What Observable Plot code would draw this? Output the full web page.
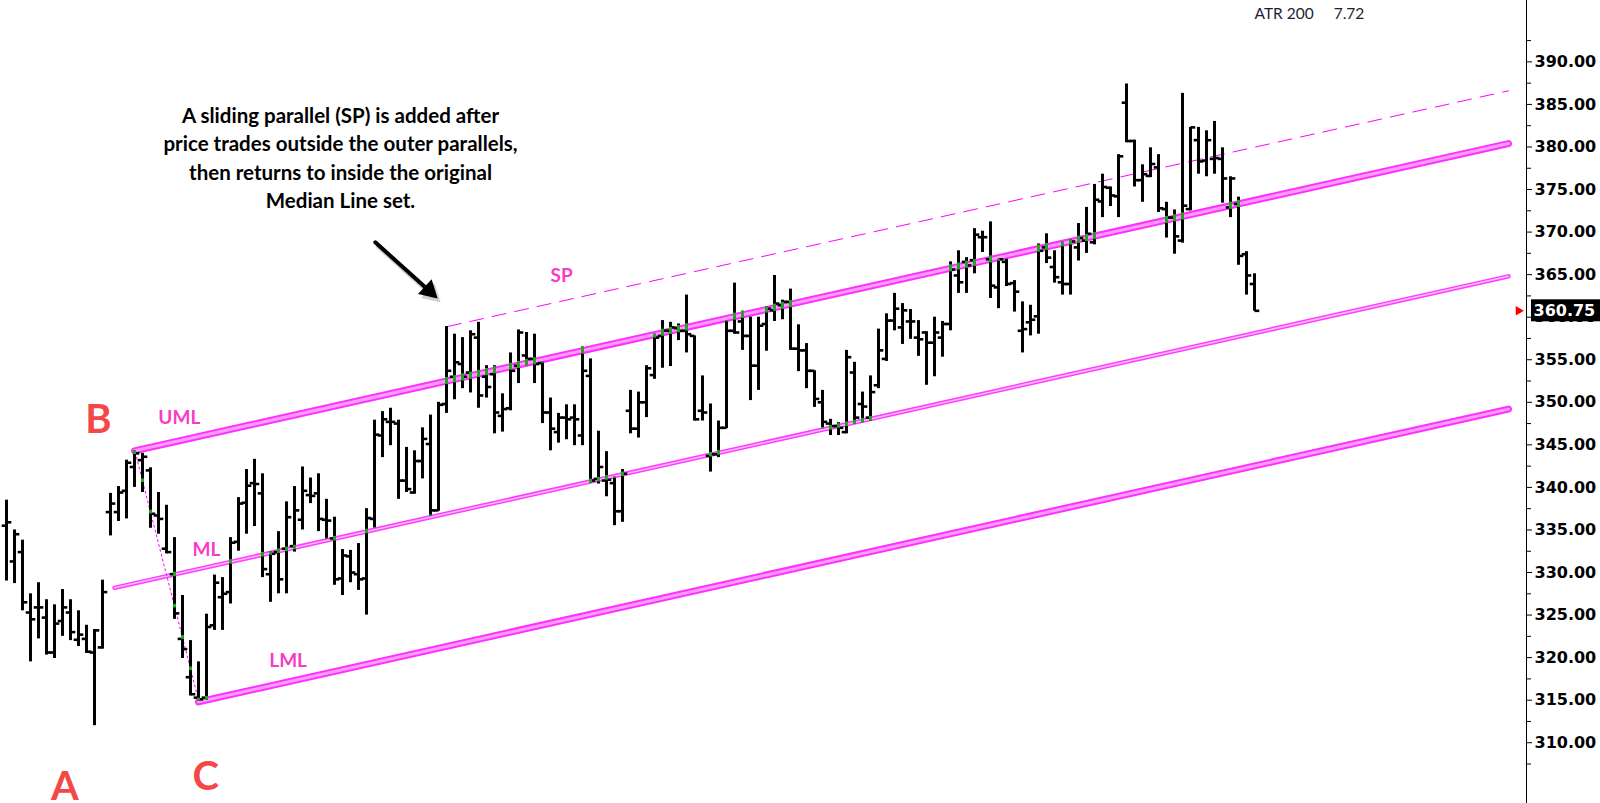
<!DOCTYPE html>
<html><head><meta charset="utf-8">
<script src="https://cdn.jsdelivr.net/npm/d3@7"></script>
<script src="https://cdn.jsdelivr.net/npm/@observablehq/plot@0.6"></script>
<style>
body{margin:0;background:#fff;}
#chart svg{display:block}
</style></head><body><div id="chart"></div>
<script>
// ---------------- data ----------------
const opens = [335.5,331.3,332.4,325.3,325.9,324.7,320.6,324.3,325.3,322.1,322.2,320.6,321.2,337.1,337.1,339.6,342.4,343.2,342.0,336.7,
332.8,329.8,322.2,317.7,315.3,315.3,323.8,327.1,327.7,333.6,338.2,340.5,339.3,329.8,332.4,332.8,333.1,336.2,339.1,339.3,
336.2,334.0,329.3,331.9,329.8,329.3,336.3,346.1,347.7,347.5,340.8,339.4,343.1,345.1,337.3,349.8,353.0,354.5,353.5,357.6,
353.0,353.3,348.4,349.3,354.3,355.5,355.1,354.6,348.8,346.5,348.2,348.2,346.1,353.1,341.0,340.8,340.5,337.2,349.0,346.9,
350.0,353.2,357.8,358.4,358.7,358.4,357.8,349.0,343.7,343.9,347.0,358.4,359.5,357.8,354.3,359.2,360.8,361.4,361.8,356.3,
356.1,353.7,350.0,347.5,347.2,346.5,353.5,349.8,348.2,352.0,355.1,359.6,358.8,359.5,357.6,358.2,357.0,357.6,359.2,364.9,
366.5,366.7,369.4,366.8,363.5,366.5,364.0,358.4,359.4,360.1,368.2,365.9,364.1,363.9,368.2,369.0,368.8,373.6,375.2,374.2,
385.2,380.7,376.1,376.6,377.6,372.7,371.7,369.0,372.7,380.8,378.4,378.6,378.6,372.9,373.3,367.4,363.9];
const highs = [338.5,335.0,333.8,327.5,328.8,326.8,326.2,328.0,326.8,325.5,323.8,323.3,329.1,339.3,340.1,343.2,344.3,344.0,342.3,339.4,
337.9,334.1,327.3,322.0,319.5,325.1,329.7,329.4,334.1,338.8,342.1,343.3,341.6,332.4,334.8,338.3,340.1,342.4,341.1,341.6,
338.6,336.5,332.7,332.6,333.4,337.5,347.9,348.9,349.3,347.9,344.7,344.3,347.0,348.5,350.0,358.9,358.0,357.6,358.4,359.4,
354.3,354.3,351.0,355.8,358.5,358.2,358.0,354.7,350.5,348.7,349.7,349.7,356.5,355.1,346.6,344.2,341.2,342.1,351.4,351.2,
354.3,358.0,359.6,359.4,359.2,362.6,357.8,353.1,349.8,347.8,359.6,364.0,360.7,360.0,360.0,361.2,364.9,362.0,363.3,359.1,
356.9,353.7,351.4,348.0,347.6,356.1,354.7,351.2,353.1,358.6,360.4,362.8,361.6,360.9,359.6,358.3,360.0,359.5,366.5,367.8,
367.0,370.4,370.1,371.2,366.8,366.8,364.3,361.8,361.4,368.6,369.8,367.8,368.8,369.1,371.0,372.9,375.6,376.8,375.3,379.1,
387.4,380.8,377.9,379.9,379.1,373.5,372.6,386.3,382.3,382.3,381.9,383.0,379.9,376.5,374.1,367.7,365.1];
const lows = [329.0,328.7,325.5,319.5,322.2,320.3,319.9,322.5,322.0,321.3,320.5,312.0,321.0,334.3,336.0,336.3,340.0,339.4,335.2,334.5,
332.2,324.5,319.9,315.5,314.9,315.0,323.2,323.2,326.3,332.5,334.5,335.4,329.4,326.5,327.5,327.5,332.4,335.0,338.1,334.8,
333.9,328.5,327.3,328.8,327.9,325.0,335.2,343.5,344.9,338.6,339.4,339.2,341.0,336.6,337.2,348.7,350.3,351.6,351.1,349.3,
350.5,346.3,346.5,349.0,352.2,354.3,352.2,347.5,344.3,345.2,345.6,344.9,344.9,340.5,340.4,338.9,335.5,335.9,346.3,345.8,
348.2,352.7,354.0,354.2,357.25,355.8,347.8,347.8,341.8,343.5,346.9,358.0,356.1,350.2,351.4,356.0,359.5,359.7,356.1,353.6,
351.6,349.4,346.9,346.1,346.1,346.3,347.4,347.6,347.8,351.6,354.8,358.4,356.8,357.4,355.4,352.0,353.0,355.3,358.4,362.8,
362.8,365.1,367.6,362.2,361.0,363.6,360.6,355.8,357.8,358.0,366.3,364.0,362.6,362.6,366.6,367.5,368.5,371.7,373.0,371.7,
380.5,375.3,373.5,376.4,372.3,369.3,367.4,368.7,372.5,376.8,376.5,376.8,373.4,371.7,366.1,362.6,360.7];
const closes = [335.9,334.5,326.5,324.5,325.9,320.6,324.0,325.9,323.0,322.7,320.7,323.2,327.7,338.1,339.4,342.9,344.0,343.6,336.9,336.3,
332.4,325.2,321.0,315.7,315.1,323.6,328.8,327.5,333.5,338.1,340.2,340.4,330.4,332.2,329.2,336.5,337.3,339.6,339.0,336.3,
336.1,329.2,332.0,330.0,329.2,336.4,346.2,348.0,347.7,340.8,339.8,343.1,345.7,337.3,349.7,353.7,354.7,353.0,358.0,350.8,
351.8,348.8,349.2,353.7,358.2,355.1,354.5,348.8,346.9,348.2,348.0,348.0,353.7,340.8,342.4,340.9,337.2,341.6,346.9,350.0,
354.0,357.6,358.4,358.8,358.4,358.0,348.0,348.8,343.9,347.0,358.4,358.2,357.8,354.3,359.0,361.0,361.6,361.8,356.3,356.1,
353.7,350.4,347.7,347.2,347.0,355.3,348.2,349.5,351.2,356.1,359.6,361.0,360.8,359.5,357.4,357.0,358.2,359.2,365.6,364.1,
366.1,369.7,369.4,363.7,366.8,363.9,363.0,358.6,359.7,367.8,367.0,364.7,363.9,368.9,369.3,369.8,373.8,375.3,374.3,378.9,
380.7,376.1,376.8,378.0,372.8,371.7,369.5,373.1,382.3,378.3,380.8,378.7,376.3,376.3,367.2,364.9,360.75];

// y-axis ticks
const yTicks = [310,315,320,325,330,335,340,345,350,355,360,365,370,375,380,385,390];
const yMinorTicks = [307.5,312.5,317.5,322.5,327.5,332.5,337.5,342.5,347.5,352.5,357.5,362.5,367.5,372.5,377.5,382.5,387.5,392.5];

// Median Line set (bar index, price) endpoints
const pfNames = ["UML","ML","LML"];
const pfStartIndex = [16, 13.5, 24];
const pfStartPrice = [344.3, 328.2, 314.8];
const pfEndIndex = [187.75, 187.75, 187.75];
const pfEndPrice = [380.4, 364.8, 349.2];
// sliding parallel
const spStart = [55.1, 358.9];
const spEnd = [187.75, 386.6];
// B -> C dotted
const bcStart = [16.1, 344.1];
const bcEnd = [24.0, 315.0];

// labels
const pivotLabels = ["A","B","C"];
const pivotIndex = [7.3, 11.5, 24.9];
const pivotPrice = [304.8, 347.9, 305.9];
const lineLabels = ["UML","ML","LML","SP"];
const lineLabelIndex = [21.6, 25.0, 35.2, 69.4];
const lineLabelPrice = [348.2, 332.7, 319.6, 364.8];
const noteLines = ["A sliding parallel (SP) is added after","price trades outside the outer parallels,","then returns to inside the original","Median Line set."];
const noteIndex = 41.75;
const notePrice = 378.9;
const noteArrow = {i1: 46.1, p1: 368.8, i2: 53.9, p2: 362.2};
const atrLabel = ["ATR 200", "7.72"];
const atrIndex = [156.0, 165.9];
const atrPrice = 395.65;

// ---------------- build ----------------
const bars = opens.map((o, i) => ({i, open: o, high: highs[i], low: lows[i], close: closes[i]}));
const pfLines = pfNames.map((n, k) => ({name: n, i0: pfStartIndex[k], p0: pfStartPrice[k], i1: pfEndIndex[k], p1: pfEndPrice[k]}));
const lineAt = (l, i) => l.p0 + (l.p1 - l.p0) * (i - l.i0) / (l.i1 - l.i0);
const bcLine = {i0: bcStart[0], p0: bcStart[1], i1: bcEnd[0], p1: bcEnd[1]};

const bandDefs = [
  {l: pfLines[0], h: 0.42}, {l: pfLines[1], h: 0.27}, {l: pfLines[2], h: 0.42}, {l: bcLine, h: 0.22}
];
const greens = [];
for (const b of bars) {
  for (const {l, h} of bandDefs) {
    if (b.i < l.i0 - 0.2 || b.i > l.i1) continue;
    const c = lineAt(l, Math.max(b.i, l.i0));
    const lo = Math.max(b.low, c - h), hi = Math.min(b.high, c + h);
    if (hi > lo) greens.push({i: b.i, lo, hi});
  }
}

const seg = (l) => [{i: l.i0, p: l.p0}, {i: l.i1, p: l.p1}];
const xMax = 190;
const last = closes[closes.length - 1];
const lato = "Lato, 'Open Sans', sans-serif";
const dejavu = "'DejaVu Sans', Verdana, sans-serif";
const pink = "#f83cc6";
const arrowRot = 90 + 42.6;

const chart = Plot.plot({
  width: 1600, height: 803,
  marginLeft: 0, marginRight: 74, marginTop: 0, marginBottom: 0,
  x: {domain: [-0.75, xMax], axis: null},
  y: {domain: [302.86, 397.21], axis: null},
  style: {background: "white", fontFamily: lato},
  marks: [
    // median line set
    ...[0, 2].map(k => Plot.line(seg(pfLines[k]), {x: "i", y: "p", stroke: "#ff30ff", strokeWidth: 7})),
    ...[0, 2].map(k => Plot.line(seg(pfLines[k]), {x: "i", y: "p", stroke: "#ff9cff", strokeWidth: 3})),
    Plot.line(seg(pfLines[1]), {x: "i", y: "p", stroke: "#ff3cff", strokeWidth: 4.5}),
    Plot.line(seg(pfLines[1]), {x: "i", y: "p", stroke: "#ffbcff", strokeWidth: 1.5}),
    Plot.line([{i: spStart[0], p: spStart[1]}, {i: spEnd[0], p: spEnd[1]}], {x: "i", y: "p", stroke: "#ff00ff", strokeWidth: 1, strokeDasharray: "14,9"}),
    Plot.line(seg(bcLine), {x: "i", y: "p", stroke: "#ff00ff", strokeWidth: 1, strokeDasharray: "2,3"}),
    // OHLC bars
    Plot.ruleX(bars, {x: "i", y1: "low", y2: "high", stroke: "black", strokeWidth: 3}),
    Plot.link(bars, {x1: d => d.i - 0.6, x2: d => d.i, y1: "open", y2: "open", stroke: "black", strokeWidth: 2.6}),
    Plot.link(bars, {x1: d => d.i, x2: d => d.i + 0.6, y1: "close", y2: "close", stroke: "black", strokeWidth: 2.6}),
    // where bars touch the lines
    Plot.ruleX(greens, {x: "i", y1: "lo", y2: "hi", stroke: "#1fa51f", strokeWidth: 3}),
    // labels
    Plot.text(pivotLabels, {x: (d, k) => pivotIndex[k], y: (d, k) => pivotPrice[k], text: d => d, fill: "#f44848", fontSize: 40, fontWeight: "bold", fontFamily: lato}),
    Plot.text(lineLabels, {x: (d, k) => lineLabelIndex[k], y: (d, k) => lineLabelPrice[k], text: d => d, fill: pink, fontSize: 19, fontWeight: "bold", fontFamily: lato}),
    Plot.text([noteLines.join("\n")], {x: noteIndex, y: notePrice, text: d => d, fill: "black", fontSize: 20.5, fontWeight: "bold", fontFamily: lato, lineHeight: 1.39}),
    // note arrow (shadow + arrow)
    Plot.arrow([noteArrow], {x1: "i1", y1: "p1", x2: "i2", y2: "p2", stroke: "#999", strokeWidth: 5, headLength: 0, insetEnd: 10, dx: 3, dy: 4, strokeOpacity: 0.45}),
    Plot.dot([noteArrow], {x: "i2", y: "p2", dx: -8.6 + 3, dy: -7.9 + 4, symbol: "triangle", rotate: arrowRot, r: 7.5, fill: "#999", fillOpacity: 0.45, stroke: "none"}),
    Plot.arrow([noteArrow], {x1: "i1", y1: "p1", x2: "i2", y2: "p2", stroke: "black", strokeWidth: 4, headLength: 0, insetEnd: 10}),
    Plot.dot([noteArrow], {x: "i2", y: "p2", dx: -8.6, dy: -7.9, symbol: "triangle", rotate: arrowRot, r: 7.5, fill: "black", stroke: "none"}),
    Plot.text(atrLabel, {x: (d, k) => atrIndex[k], y: atrPrice, text: d => d, textAnchor: "start", fill: "#1d1d35", fontSize: 15.5, fontFamily: lato}),
    // right axis
    Plot.frame({anchor: "right", stroke: "black"}),
    Plot.axisY(yMinorTicks, {anchor: "right", tickSize: 4, tickFormat: () => "", stroke: "black"}),
    Plot.axisY(yTicks, {anchor: "right", tickSize: 5, tickPadding: 3, tickFormat: d => d.toFixed(2), fontSize: 16, fontWeight: "bold", fontFamily: dejavu, fill: "black", stroke: "black"}),
    // last price marker
    Plot.rect([last], {x1: xMax, x2: xMax, y1: d => d, y2: d => d, insetLeft: 5, insetRight: -74, insetTop: -11, insetBottom: -11, fill: "black"}),
    Plot.text([last], {x: xMax, y: d => d, dx: 7, textAnchor: "start", text: d => d.toFixed(2), fill: "white", fontSize: 16, fontWeight: "bold", fontFamily: dejavu}),
    Plot.dot([last], {x: xMax, y: d => d, dx: -8, symbol: "triangle2", rotate: 90, r: 4.5, fill: "red", stroke: "none"})
  ]
});
document.getElementById("chart").appendChild(chart);
</script>
</body></html>
